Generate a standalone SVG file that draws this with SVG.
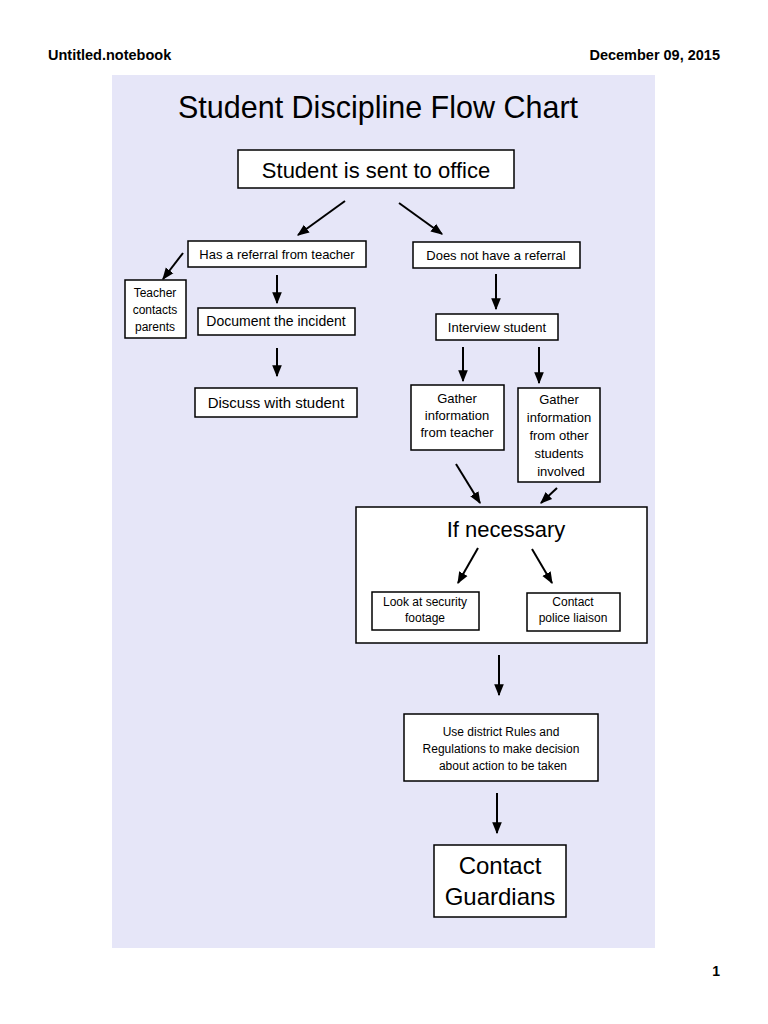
<svg xmlns="http://www.w3.org/2000/svg" width="768" height="1024" viewBox="0 0 768 1024">
<defs>
<marker id="ah" viewBox="0 0 10 10" refX="9" refY="5" markerWidth="6" markerHeight="6" orient="auto"><path d="M0,1 L10,5 L0,9 z" fill="#000"/></marker>
<style>
text{font-family:"Liberation Sans",Arial,sans-serif;fill:#000;text-anchor:middle}
.b{fill:#fff;stroke:#000;stroke-width:1.5}
.c line{stroke:#000;stroke-width:2;marker-end:url(#ah)}
</style>
</defs>
<rect width="768" height="1024" fill="#fff"/>
<text x="48" y="60" style="text-anchor:start;font-weight:bold;font-size:14.5px">Untitled.notebook</text>
<text x="720" y="60" style="text-anchor:end;font-weight:bold;font-size:14.5px">December 09, 2015</text>
<text x="720" y="976" style="text-anchor:end;font-weight:bold;font-size:14px">1</text>
<rect x="112" y="75" width="543" height="873" fill="#e6e6f8"/>
<text x="378" y="118" font-size="30.5">Student Discipline Flow Chart</text>
<g id="n1"><rect class="b" x="238" y="150" width="276" height="38"/><text x="376" y="178" font-size="22">Student is sent to office</text></g>
<g id="n2"><rect class="b" x="188" y="241" width="178" height="26"/><text x="277" y="259" font-size="13">Has a referral from teacher</text></g>
<g id="n3"><rect class="b" x="413" y="242" width="167" height="26"/><text x="496" y="260" font-size="13">Does not have a referral</text></g>
<g id="n4"><rect class="b" x="125" y="280" width="61" height="58"/><text x="155" y="297" font-size="12">Teacher</text><text x="155" y="314" font-size="12">contacts</text><text x="155" y="331" font-size="12">parents</text></g>
<g id="n5"><rect class="b" x="198" y="308" width="157" height="27"/><text x="276" y="326" font-size="14">Document the incident</text></g>
<g id="n6"><rect class="b" x="436" y="314" width="122" height="26"/><text x="497" y="332" font-size="13">Interview student</text></g>
<g id="n7"><rect class="b" x="195" y="388" width="162" height="29"/><text x="276" y="408" font-size="15">Discuss with student</text></g>
<g id="n8"><rect class="b" x="411" y="385" width="93" height="65"/><text x="457" y="403" font-size="13">Gather</text><text x="457" y="420" font-size="13">information</text><text x="457" y="437" font-size="13">from teacher</text></g>
<g id="n9"><rect class="b" x="518" y="388" width="82" height="94"/><text x="559" y="404" font-size="13">Gather</text><text x="559" y="422" font-size="13">information</text><text x="559" y="440" font-size="13">from other</text><text x="559" y="458" font-size="13">students</text><text x="561" y="476" font-size="13">involved</text></g>
<g id="n10"><rect class="b" x="356" y="507" width="291" height="136"/><text x="506" y="537" font-size="22">If necessary</text></g>
<g id="n11"><rect class="b" x="372" y="592" width="107" height="38"/><text x="425" y="606" font-size="12">Look at security</text><text x="425" y="622" font-size="12">footage</text></g>
<g id="n12"><rect class="b" x="527" y="593" width="93" height="38"/><text x="573" y="606" font-size="12">Contact</text><text x="573" y="622" font-size="12">police liaison</text></g>
<g id="n13"><rect class="b" x="404" y="714" width="194" height="67"/><text x="501" y="736" font-size="12">Use district Rules and</text><text x="501" y="753" font-size="12">Regulations to make decision</text><text x="503" y="770" font-size="12">about action to be taken</text></g>
<g id="n14"><rect class="b" x="434" y="845" width="132" height="72"/><text x="500" y="874" font-size="24">Contact</text><text x="500" y="905" font-size="24">Guardians</text></g>
<g class="c" id="connectors">
<line x1="345" y1="201" x2="298" y2="235"/>
<line x1="399" y1="203" x2="442" y2="234"/>
<line x1="183" y1="253" x2="163" y2="279"/>
<line x1="277" y1="275" x2="277" y2="303"/>
<line x1="277" y1="348" x2="277" y2="376"/>
<line x1="496" y1="274" x2="496" y2="309"/>
<line x1="463" y1="347" x2="463" y2="381"/>
<line x1="539" y1="347" x2="539" y2="383"/>
<line x1="456" y1="464" x2="480" y2="503"/>
<line x1="557" y1="488" x2="541" y2="503"/>
<line x1="478" y1="548" x2="458" y2="583"/>
<line x1="532" y1="549" x2="552" y2="583"/>
<line x1="499" y1="655" x2="499" y2="695"/>
<line x1="497" y1="793" x2="497" y2="833"/>
</g>
</svg>
